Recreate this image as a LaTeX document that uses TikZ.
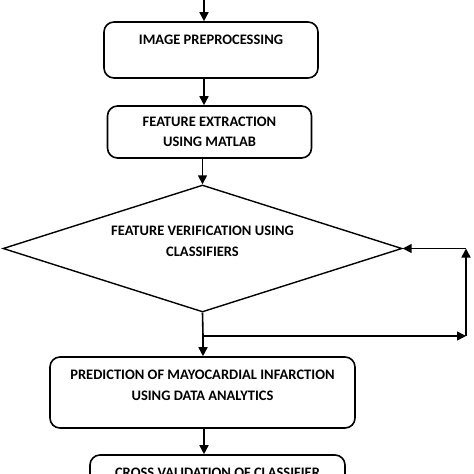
\documentclass[tikz,border=0pt]{standalone}
\usepackage{fontspec}
\setmainfont{Carlito}
\usetikzlibrary{
  arrows.meta,
  shapes.geometric
}
\tikzset{
  procbox/.style={
    draw=black, line width=1.6pt, rounded corners=10pt,
    align=center, font=\bfseries\fontsize{14.5}{20.5}\selectfont,
    inner sep=0pt
  },
  decision/.style={
    draw=black, line width=1.4pt, diamond, aspect=3.14, inner sep=0pt,
    align=center, font=\bfseries\fontsize{14.5}{20.5}\selectfont
  },
  flowline/.style={
    line width=1.6pt,
    -{Triangle[length=9pt,width=9pt]}
  }
}
\begin{document}
\begin{tikzpicture}[x=1pt,y=-1pt]
\useasboundingbox (0,0) rectangle (474,474);
\clip (0,0) rectangle (474,474);
% boxes
\node[procbox, minimum width=214pt, minimum height=56pt] (prep) at (211,50)
  {IMAGE PREPROCESSING\\ };
\node[procbox, minimum width=204pt, minimum height=52pt] (feat) at (209.5,132)
  {FEATURE EXTRACTION\\USING MATLAB};
\node[decision, minimum width=399pt, minimum height=127pt] (verify) at (202.5,248.5)
  {FEATURE VERIFICATION USING\\CLASSIFIERS\\[-6pt]};
\node[procbox, minimum width=305pt, minimum height=71pt] (predict) at (202.5,392.5)
  {PREDICTION OF MAYOCARDIAL INFARCTION\\USING DATA ANALYTICS\\[-6pt]};
\node[procbox, minimum width=255pt, minimum height=56pt] (cross) at (217.5,483)
  {CROSS VALIDATION OF CLASSIFIER\\ };
% connector points
\coordinate (axis) at (204,0);
\coordinate (split) at (203,336);
\coordinate (loopr) at (466,336);
\coordinate (loopt) at (466,248.5);
% connectors
\draw[flowline] (axis) -- (prep.north -| axis);
\draw[flowline] (prep.south -| axis) -- (feat.north -| axis);
\draw[flowline] (feat.south -| verify.north) -- (verify.north);
\draw[line width=1.6pt] (verify.south) -- (split);
\draw[flowline] (split) -- (predict.north -| split);
\draw[flowline] (split) -- (loopr);
\draw[flowline] (loopr) -- (loopt);
\draw[flowline] (loopt) -- (verify.east);
\draw[flowline] (predict.south -| axis) -- (cross.north -| axis);
\end{tikzpicture}
\end{document}
